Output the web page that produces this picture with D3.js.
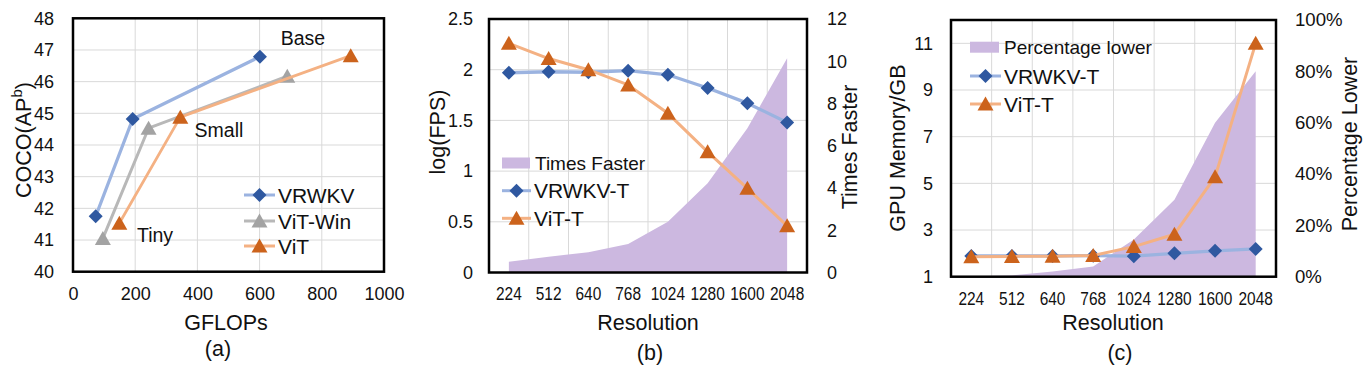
<!DOCTYPE html>
<html><head><meta charset="utf-8">
<script src="https://cdn.jsdelivr.net/npm/d3@7"></script>
<style>
html,body{margin:0;padding:0;background:#fff;}
svg text{font-family:"Liberation Sans",Arial,sans-serif;fill:#111;}
</style></head>
<body><svg id="c" width="1366" height="369"></svg>
<script>
// ---------- DATA ----------
// (a) COCO AP vs GFLOPs
const aVrwkvGflops = [73, 192, 601];
const aVrwkvAP     = [41.75, 44.82, 46.79];
const aVitWinGflops = [96, 243, 689];
const aVitWinAP     = [41.05, 44.53, 46.17];
const aVitGflops = [149, 345, 893];
const aVitAP     = [41.53, 44.88, 46.82];
const aSizeLabels = ["Tiny", "Small", "Base"];
const aXTicks = [0, 200, 400, 600, 800, 1000];
const aYTicks = [40, 41, 42, 43, 44, 45, 46, 47, 48];

// (b) log(FPS) and Times Faster vs resolution
const resolutions = ["224", "512", "640", "768", "1024", "1280", "1600", "2048"];
const bVrwkvFps = [1.97, 1.98, 1.975, 1.99, 1.95, 1.82, 1.67, 1.48];
const bVitFps   = [2.26, 2.11, 2.0, 1.85, 1.57, 1.19, 0.83, 0.46];
const bTimesFaster = [0.51, 0.75, 0.96, 1.35, 2.40, 4.22, 6.83, 10.14];
const bYTicks = [0, 0.5, 1, 1.5, 2, 2.5];
const bY2Ticks = [0, 2, 4, 6, 8, 10, 12];

// (c) GPU memory and Percentage lower vs resolution
const cVrwkvMem = [1.89, 1.89, 1.89, 1.9, 1.88, 2.0, 2.11, 2.19];
const cVitMem   = [1.86, 1.87, 1.88, 1.91, 2.29, 2.82, 5.28, 11.0];
const cPctLower = [0.002, 0.005, 0.02, 0.04, 0.145, 0.30, 0.60, 0.80];
const cYTicks = [1, 3, 5, 7, 9, 11];
const cY2Ticks = [0, 0.2, 0.4, 0.6, 0.8, 1.0];

// ---------- STYLE ----------
const BLUE_LINE = "#9bb3e0", BLUE_MK = "#2f58a0";
const GRAY_LINE = "#b8b8b8", GRAY_MK = "#a3a3a3";
const ORG_LINE = "#f4b183", ORG_MK = "#cc631c";
const AREA = "#ccb8e0", GRID = "#d9d9d9";
const TICK_FS = 18, TITLE_FS = 21.5;

const svg = d3.select("#c");
const diamond = "M0,-7L7,0L0,7L-7,0Z";
const triangle = "M0,-7.5L8,6.5L-8,6.5Z";

function frame(g, x0, x1, y0, y1) {
  g.append("rect").attr("x", x0).attr("y", y0).attr("width", x1 - x0).attr("height", y1 - y0)
    .attr("fill", "none").attr("stroke", "#000").attr("stroke-width", 2.5);
}
function hgrid(g, ys, x0, x1) {
  g.selectAll(null).data(ys).join("line").attr("x1", x0).attr("x2", x1)
    .attr("y1", d => d).attr("y2", d => d).attr("stroke", GRID).attr("stroke-width", 1);
}
function vgrid(g, xs, y0, y1) {
  g.selectAll(null).data(xs).join("line").attr("y1", y0).attr("y2", y1)
    .attr("x1", d => d).attr("x2", d => d).attr("stroke", GRID).attr("stroke-width", 1);
}
function styleAxis(sel, fs, narrow) {
  sel.select(".domain").remove();
  sel.selectAll(".tick line").remove();
  sel.selectAll("text").attr("font-size", fs).attr("fill", "#111")
    .style("font-family", '"Liberation Sans",Arial,sans-serif');
  if (narrow) sel.selectAll("text").attr("transform", "scale(0.83,1)");
}
function series(g, xs, ys, lineColor, mkColor, shape, lw) {
  const pts = xs.map((x, i) => [x, ys[i]]);
  g.append("path").attr("d", d3.line()(pts)).attr("fill", "none")
    .attr("stroke", lineColor).attr("stroke-width", lw).attr("stroke-linejoin", "round");
  g.selectAll(null).data(pts).join("path").attr("d", shape)
    .attr("transform", d => `translate(${d[0]},${d[1]})`).attr("fill", mkColor);
}
function legendLine(g, x0, x1, y, lineColor, mkColor, shape, label, fs) {
  g.append("line").attr("x1", x0).attr("x2", x1).attr("y1", y).attr("y2", y)
    .attr("stroke", lineColor).attr("stroke-width", 3);
  g.append("path").attr("d", shape).attr("transform", `translate(${(x0 + x1) / 2},${y})`).attr("fill", mkColor);
  g.append("text").attr("x", x1 + 3).attr("y", y).attr("dominant-baseline", "central")
    .attr("font-size", fs).text(label);
}
function rotTitle(g, x, y, text, fs) {
  return g.append("text").attr("transform", `translate(${x},${y}) rotate(-90)`)
    .attr("text-anchor", "middle").attr("dominant-baseline", "central").attr("font-size", fs).text(text);
}

// ================= (a) =================
{
  const L = 73, R = 384, T = 18.3, B = 271.7;
  const g = svg.append("g");
  const x = d3.scaleLinear([0, 1000], [L, R]);
  const y = d3.scaleLinear([40, 48], [B, T]);
  hgrid(g, aYTicks.slice(1, -1).map(y), L, R);
  vgrid(g, aXTicks.slice(1, -1).map(x), T, B);

  series(g, aVrwkvGflops.map(x), aVrwkvAP.map(y), BLUE_LINE, BLUE_MK, diamond, 3.3);
  series(g, aVitWinGflops.map(x), aVitWinAP.map(y), GRAY_LINE, GRAY_MK, triangle, 3);
  series(g, aVitGflops.map(x), aVitAP.map(y), ORG_LINE, ORG_MK, triangle, 2.8);
  frame(g, L, R, T, B);

  const ax = g.append("g").attr("transform", `translate(0,${B})`)
    .call(d3.axisBottom(x).tickValues(aXTicks).tickSize(0).tickPadding(16).tickFormat(d3.format("d")));
  styleAxis(ax, TICK_FS, false);
  const ay = g.append("g").attr("transform", `translate(${L},0)`)
    .call(d3.axisLeft(y).tickValues(aYTicks).tickSize(0).tickPadding(19).tickFormat(d3.format("d")));
  styleAxis(ay, TICK_FS, false);

  // size annotations
  const lab = [[155, 235], [219, 130], [303, 38]];
  aSizeLabels.forEach((t, i) => g.append("text").attr("x", lab[i][0]).attr("y", lab[i][1])
    .attr("text-anchor", "middle").attr("dominant-baseline", "central").attr("font-size", 19.5).text(t));

  legendLine(g, 244, 275, 195, BLUE_LINE, BLUE_MK, diamond, "VRWKV", 21);
  legendLine(g, 244, 275, 221, GRAY_LINE, GRAY_MK, triangle, "ViT-Win", 21);
  legendLine(g, 244, 275, 246, ORG_LINE, ORG_MK, triangle, "ViT", 21);

  g.append("text").attr("x", 226).attr("y", 323).attr("text-anchor", "middle")
    .attr("dominant-baseline", "central").attr("font-size", TITLE_FS).text("GFLOPs");
  g.append("text").attr("x", 218).attr("y", 349).attr("text-anchor", "middle")
    .attr("dominant-baseline", "central").attr("font-size", TITLE_FS).text("(a)");
  const t = rotTitle(g, 24, 140, "", TITLE_FS);
  t.append("tspan").text("COCO(AP");
  t.append("tspan").attr("dy", -8).attr("font-size", 15).text("b");
  t.append("tspan").attr("dy", 8).text(")");
}

// ================= (b) =================
{
  const L = 489, R = 807, T = 19, B = 272.5;
  const g = svg.append("g");
  const x = d3.scaleBand(resolutions, [L, R]);
  const cx = d => x(d) + x.bandwidth() / 2;
  const y = d3.scaleLinear([0, 2.5], [B, T]);
  const y2 = d3.scaleLinear([0, 12], [B, T]);
  hgrid(g, bYTicks.slice(1, -1).map(y), L, R);
  vgrid(g, resolutions.slice(1).map(d => x(d)), T, B);

  g.append("path").datum(resolutions.map((r, i) => [cx(r), bTimesFaster[i]]))
    .attr("d", d3.area().x(d => d[0]).y0(y2(0)).y1(d => y2(d[1]))).attr("fill", AREA);

  series(g, resolutions.map(cx), bVrwkvFps.map(y), BLUE_LINE, BLUE_MK, diamond, 3.3);
  series(g, resolutions.map(cx), bVitFps.map(y), ORG_LINE, ORG_MK, triangle, 3);
  frame(g, L, R, T, B);

  const ax = g.append("g").attr("transform", `translate(0,${B})`)
    .call(d3.axisBottom(x).tickSize(0).tickPadding(14));
  styleAxis(ax, 18.6, true);
  const ay = g.append("g").attr("transform", `translate(${L},0)`)
    .call(d3.axisLeft(y).tickValues(bYTicks).tickSize(0).tickPadding(16).tickFormat(d => String(d)));
  styleAxis(ay, TICK_FS, false);
  const ay2 = g.append("g").attr("transform", `translate(${R},0)`)
    .call(d3.axisRight(y2).tickValues(bY2Ticks).tickSize(0).tickPadding(20).tickFormat(d3.format("d")));
  styleAxis(ay2, TICK_FS, false);

  g.append("rect").attr("x", 502).attr("y", 157.5).attr("width", 28).attr("height", 11).attr("fill", AREA);
  g.append("text").attr("x", 535).attr("y", 163).attr("dominant-baseline", "central")
    .attr("font-size", 19).text("Times Faster");
  legendLine(g, 502, 531, 190.7, BLUE_LINE, BLUE_MK, diamond, "VRWKV-T", 21);
  legendLine(g, 502, 531, 218.3, ORG_LINE, ORG_MK, triangle, "ViT-T", 21);

  g.append("text").attr("x", 648).attr("y", 323).attr("text-anchor", "middle")
    .attr("dominant-baseline", "central").attr("font-size", TITLE_FS).text("Resolution");
  g.append("text").attr("x", 650).attr("y", 353).attr("text-anchor", "middle")
    .attr("dominant-baseline", "central").attr("font-size", TITLE_FS).text("(b)");
  rotTitle(g, 438, 132, "log(FPS)", TITLE_FS);
  rotTitle(g, 850, 147, "Times Faster", TITLE_FS);
}

// ================= (c) =================
{
  const L = 951, R = 1276, T = 20, B = 276.7;
  const g = svg.append("g");
  const x = d3.scaleBand(resolutions, [L, R]);
  const cx = d => x(d) + x.bandwidth() / 2;
  const y = d3.scaleLinear([1, 12], [B, T]);
  const y2 = d3.scaleLinear([0, 1], [B, T]);
  hgrid(g, cYTicks.slice(1).map(y), L, R);
  vgrid(g, resolutions.slice(1).map(d => x(d)), T, B);

  g.append("path").datum(resolutions.map((r, i) => [cx(r), cPctLower[i]]))
    .attr("d", d3.area().x(d => d[0]).y0(y2(0)).y1(d => y2(d[1]))).attr("fill", AREA);

  series(g, resolutions.map(cx), cVrwkvMem.map(y), BLUE_LINE, BLUE_MK, diamond, 3.3);
  series(g, resolutions.map(cx), cVitMem.map(y), ORG_LINE, ORG_MK, triangle, 3);
  frame(g, L, R, T, B);

  const ax = g.append("g").attr("transform", `translate(0,${B})`)
    .call(d3.axisBottom(x).tickSize(0).tickPadding(15));
  styleAxis(ax, 18.6, true);
  const ay = g.append("g").attr("transform", `translate(${L},0)`)
    .call(d3.axisLeft(y).tickValues(cYTicks).tickSize(0).tickPadding(18).tickFormat(d3.format("d")));
  styleAxis(ay, TICK_FS, false);
  const ay2 = g.append("g").attr("transform", `translate(${R},0)`)
    .call(d3.axisRight(y2).tickValues(cY2Ticks).tickSize(0).tickPadding(19).tickFormat(d3.format(".0%")));
  styleAxis(ay2, 18.6, false);

  g.append("rect").attr("x", 970).attr("y", 41.7).attr("width", 29).attr("height", 11).attr("fill", AREA);
  g.append("text").attr("x", 1004).attr("y", 47).attr("dominant-baseline", "central")
    .attr("font-size", 19).text("Percentage lower");
  legendLine(g, 970, 1001, 76, BLUE_LINE, BLUE_MK, diamond, "VRWKV-T", 21);
  legendLine(g, 970, 1001, 104, ORG_LINE, ORG_MK, triangle, "ViT-T", 21);

  g.append("text").attr("x", 1113).attr("y", 323).attr("text-anchor", "middle")
    .attr("dominant-baseline", "central").attr("font-size", TITLE_FS).text("Resolution");
  g.append("text").attr("x", 1120).attr("y", 353).attr("text-anchor", "middle")
    .attr("dominant-baseline", "central").attr("font-size", TITLE_FS).text("(c)");
  rotTitle(g, 898, 148, "GPU Memory/GB", TITLE_FS);
  rotTitle(g, 1350, 144, "Percentage Lower", TITLE_FS);
}
</script></body></html>
